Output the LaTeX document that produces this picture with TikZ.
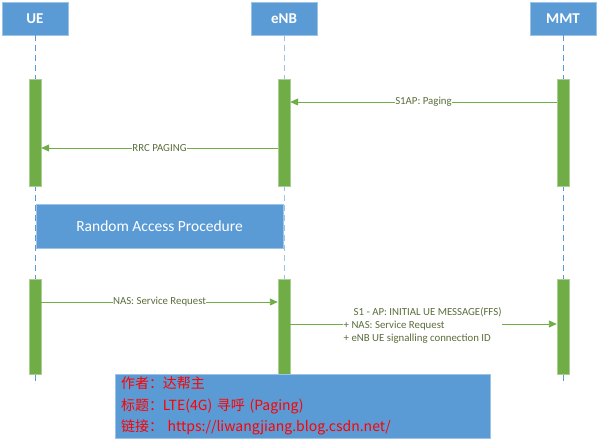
\documentclass[tikz,border=0pt]{standalone}
\usepackage{fontspec}
\setmainfont{Carlito}
\newfontfamily\cjk{Noto Sans CJK SC}
\usetikzlibrary{arrows.meta}
\definecolor{hdr}{HTML}{5B9BD5}
\definecolor{barg}{HTML}{70AD47}
\definecolor{lblue}{HTML}{9DC3E6}
\definecolor{lbl}{RGB}{90,110,60}
\begin{document}
\begin{tikzpicture}[x=1pt,y=-1pt,
  header/.style={fill=hdr,draw=lblue,line width=0.6pt,minimum width=66pt,minimum height=33pt,text=white,font=\bfseries\fontsize{15}{17}\selectfont,inner sep=0pt},
  actbar/.style={fill=barg,draw=barg!60!white,line width=0.4pt,minimum width=12pt,inner sep=0pt},
  life/.style={dash pattern=on 6pt off 4pt,line width=0.8pt},
  msg/.style={draw=barg,line width=0.9pt,-{Triangle[length=8pt,width=7pt]}},
  lab/.style={fill=white,text=lbl,inner sep=0.5pt,font=\fontsize{10.8}{12}\selectfont},
  rabox/.style={fill=hdr,draw=lblue,line width=0.5pt,minimum width=247pt,minimum height=44pt,inner sep=0pt,text=white,font=\fontsize{15.5}{18}\selectfont},
  notebox/.style={fill=hdr,draw=lblue,line width=0.5pt,minimum width=375pt,minimum height=64pt,text width=363pt,align=left,inner sep=0pt,text=red,font=\cjk\fontsize{14}{21.5}\selectfont}
]
\useasboundingbox (0,0) rectangle (598,446);
% headers
\node[header] (ue)  at (35,18.5) {UE};
\node[header] (enb) at (284,18.5) {eNB};
\node[header] (mmt) at (563,18.5) {MMT};
% lifeline ends
\coordinate (ueend)  at (35,385);
\coordinate (enbend) at (284,385);
\coordinate (mmtend) at (563,385);
\draw[life,hdr]   (ue.south)  -- (ueend);
\draw[life,lblue] (enb.south) -- (enbend);
\draw[life,hdr]   (mmt.south) -- (mmtend);
% activation bars
\node[actbar,minimum height=107pt] (ue1)  at (35,132.5) {};
\node[actbar,minimum height=107pt] (enb1) at (284,132.5) {};
\node[actbar,minimum height=107pt] (mmt1) at (563,132.5) {};
\node[actbar,minimum height=95pt] (ue2)  at (35,326.5) {};
\node[actbar,minimum height=95pt] (enb2) at (284,326.5) {};
\node[actbar,minimum height=95pt] (mmt2) at (563,326.5) {};
% random access
\node[rabox] (ra) at (159.5,226) {Random Access Procedure};
% messages
\draw[msg] (mmt1.west |- 0,102) -- node[lab] (l1) {S1AP: Paging} (enb1.east |- 0,102);
\draw[msg] (enb1.west |- 0,148) -- node[lab] (l2) {RRC PAGING} (ue1.east |- 0,148);
\draw[msg] (ue2.east |- 0,302) -- node[lab] (l3) {NAS: Service Request} (enb2.west |- 0,302);
\draw[msg] (enb2.east |- 0,324) -- (mmt2.west |- 0,324);
\node[lab,align=left,font=\fontsize{10.8}{13}\selectfont,anchor=west] (l4) at (343,325)
  {\hspace{10pt}S1 - AP: INITIAL UE MESSAGE(FFS)\\+ NAS: Service Request\\+ eNB UE signalling connection ID};
% note
\node[notebox] (note) at (302.5,406) {作者：达帮主\\标题：LTE(4G) 寻呼 (Paging)\\链接： https://liwangjiang.blog.csdn.net/};
\end{tikzpicture}
\end{document}
